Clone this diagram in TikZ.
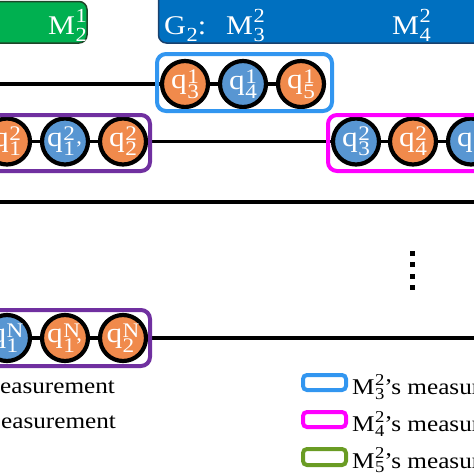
\documentclass[tikz,border=0pt]{standalone}
\usepackage{fontspec}
\setmainfont[FakeStretch=1.12]{Liberation Serif}
\usetikzlibrary{backgrounds}
\definecolor{qor}{RGB}{240,138,76}
\definecolor{qbl}{RGB}{88,150,210}
\definecolor{hdblue}{RGB}{0,112,192}
\definecolor{hdblueb}{RGB}{25,65,110}
\definecolor{hdgreen}{RGB}{0,176,80}
\definecolor{hdgreenb}{RGB}{30,70,40}
\definecolor{boxlb}{RGB}{50,150,240}
\definecolor{boxmg}{RGB}{255,0,255}
\definecolor{boxpu}{RGB}{112,48,160}
\definecolor{boxgr}{RGB}{106,156,36}
\makeatletter
% base, sup, sub, sup raise, sub lower (in units of the main size)
\newcommand\ssc[5]{%
 \edef\mainsz{\f@size}%
 #1\kern0.02em{\fontsize{\the\dimexpr 0.74\dimexpr\mainsz pt\relax\relax}{0pt}\selectfont
 \ooalign{\raisebox{#4\dimexpr\mainsz pt\relax}{#2}\cr\raisebox{-#5\dimexpr\mainsz pt\relax}{#3}\cr}}}
\makeatother
\newcommand\qq[3]{\ssc{#1}{#2}{#3}{0.2}{0.33}}
\newcommand\mm[3]{\ssc{#1}{#2}{#3}{0.44}{0.27}}
\newcommand\lm[3]{\ssc{#1}{#2}{#3}{0.42}{0.2}}
\tikzset{
 qubit/.style={circle, draw=black, line width=4.2pt, minimum size=46pt, inner sep=0pt, text=white, font=\fontsize{28}{32}\selectfont},
 qo/.style={qubit, fill=qor},
 qb/.style={qubit, fill=qbl},
 wire/.style={line width=3.5pt, draw=black},
 grp/.style={line width=4pt, rounded corners=9pt},
 hdr/.style={text=white, font=\fontsize{27}{32}\selectfont, inner sep=0pt, anchor=base west},
 leg/.style={font=\fontsize{22.5}{26}\selectfont, inner sep=0pt, anchor=base west},
 legbox/.style={line width=4pt, rounded corners=4pt},
 dotsq/.style={fill=black, draw=none, minimum size=5pt, inner sep=0pt, rectangle}
}
\begin{document}
\begin{tikzpicture}[x=1pt,y=-1pt]
\useasboundingbox (0,0) rectangle (474,474);
\clip (0,0) rectangle (474,474);
% headers
\draw[fill=hdgreen, draw=hdgreenb, line width=1.5pt, rounded corners=8pt] (-30,1.5) rectangle (87,43);
\draw[fill=hdblue, draw=hdblueb, line width=1.5pt, rounded corners=8pt] (158.5,-30) rectangle (520,43);
\node[hdr] (h21) at (48,34) {\mm{M}{1}{2}};
\node[hdr] (g2) at (164,34) {\mm{G}{}{2}:};
\node[hdr] (h32) at (226,34) {\mm{M}{2}{3}};
\node[hdr] (h42) at (392,34) {\mm{M}{2}{4}};
% row 1
\node[qo] (q31) at (185,84) {\qq{q}{1}{3}};
\node[qb] (q41) at (243,84) {\qq{q}{1}{4}};
\node[qo] (q51) at (301,84) {\qq{q}{1}{5}};
\coordinate (w1a) at (-5,84);
\draw[grp, draw=boxlb] (157,54) rectangle (332,111);
% row 2
\node[qo] (q12) at (7,141.5) {\qq{q}{2}{1}};
\node[qb] (q1p2) at (65,141.5) {\qq{q}{2}{1’}};
\node[qo] (q22) at (123,141.5) {\qq{q}{2}{2}};
\node[qb] (q32) at (356,141.5) {\qq{q}{2}{3}};
\node[qo] (q42) at (413,141.5) {\qq{q}{2}{4}};
\node[qb] (q52) at (471,141.5) {\qq{q}{2}{5}};
\coordinate (w2a) at (-5,141.5);
\coordinate (w2b) at (480,141.5);
\draw[grp, draw=boxpu] (-30,115) rectangle (150,171);
\draw[grp, draw=boxmg] (328,115) rectangle (520,171);
% row 3
\coordinate (w3a) at (-5,202);
\coordinate (w3b) at (480,202);
% dots
\node[dotsq] (d1) at (412,253) {};
\node[dotsq] (d2) at (412,264.5) {};
\node[dotsq] (d3) at (412,276) {};
\node[dotsq] (d4) at (412,287.5) {};
% row N
\node[qb] (q1N) at (7,338) {\qq{q}{N}{1}};
\node[qo] (q1pN) at (65,338) {\qq{q}{N}{1’}};
\node[qo] (q2N) at (123,338) {\qq{q}{N}{2}};
\coordinate (w4a) at (-5,338);
\coordinate (w4b) at (480,338);
\draw[grp, draw=boxpu] (-30,310) rectangle (150,366);
\begin{pgfonlayer}{background}
\draw[wire] (w1a) -- (q51.center);
\draw[wire] (w2a) -- (w2b);
\draw[wire] (w3a) -- (w3b);
\draw[wire] (w4a) -- (w4b);
\end{pgfonlayer}
% legend left
\node[leg] (l1) at (0,393) {easurement};
\node[leg] (l2) at (1,428) {easurement};
% legend right
\draw[legbox, draw=boxlb] (303,375) rectangle (346,390);
\draw[legbox, draw=boxmg] (303,412) rectangle (346,427);
\draw[legbox, draw=boxgr] (303,449) rectangle (346,465);
\node[leg] (r1) at (352,394.5) {\lm{M}{2}{3}’s measurement};
\node[leg] (r2) at (352,431.5) {\lm{M}{2}{4}’s measurement};
\node[leg] (r3) at (352,468) {\lm{M}{2}{5}’s measurement};
\end{tikzpicture}
\end{document}
